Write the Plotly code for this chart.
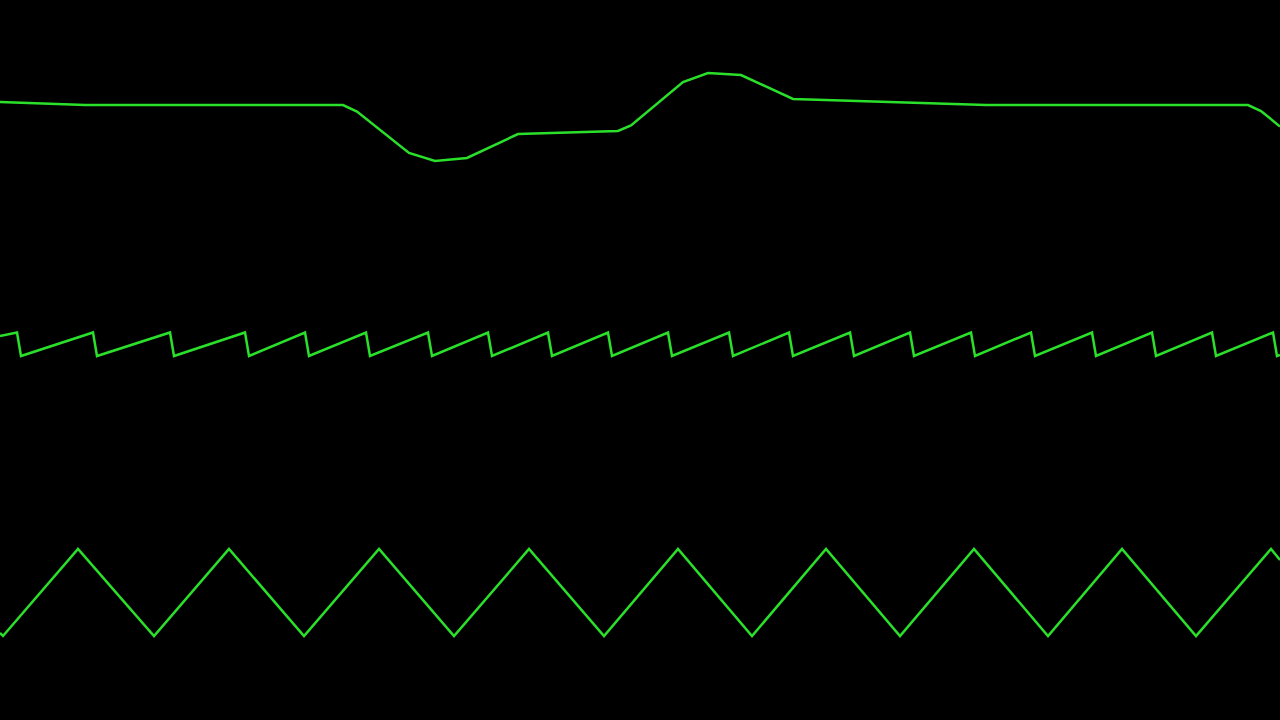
import plotly.graph_objects as go

# Trace 1: slow wandering signal (time, level)
t1 = [0, 85, 343, 357, 409, 435, 467, 518, 618, 631, 683, 708, 741, 793, 986, 1248, 1261, 1280]
v1 = [618, 615, 615, 608.5, 567, 559, 562, 586, 589, 594.5, 638, 647, 645, 621, 615, 615, 609, 593.5]

# Trace 2: sawtooth (peak times then reset times)
t2 = [0, 17, 21, 93, 97, 170, 174, 245, 249, 305, 309, 366, 370, 428, 432, 488, 492,
      548, 552, 608, 612, 668, 672, 729, 733, 789, 793, 850, 854, 910, 914, 971, 975,
      1031, 1035, 1092, 1096, 1152, 1156, 1212, 1216, 1273, 1277, 1280]
v2 = [384, 387.5, 364, 387.5, 364, 387.5, 364, 387.5, 364, 387.5, 364, 387.5, 364,
      387.5, 364, 387.5, 364, 387.5, 364, 387.5, 364, 387.5, 364, 387.5, 364, 387.5, 364,
      387.5, 364, 387.5, 364, 387.5, 364, 387.5, 364, 387.5, 364, 387.5, 364, 387.5, 364,
      387.5, 364, 365]

# Trace 3: triangle wave
t3 = [0, 3, 78, 154, 229, 304, 379, 454, 529, 604, 678, 752, 826, 900, 974, 1048, 1122, 1196, 1271, 1280]
v3 = [87, 84, 171, 84, 171, 84, 171, 84, 171, 84, 171, 84, 171, 84, 171, 84, 171, 84, 171, 160]

green = "rgb(42,224,42)"

fig = go.Figure()
for t, v in [(t1, v1), (t2, v2), (t3, v3)]:
    fig.add_trace(go.Scatter(x=t, y=v, mode="lines",
                             line=dict(color=green, width=2.5),
                             hoverinfo="skip", showlegend=False))

fig.update_layout(
    width=1280, height=720,
    margin=dict(l=0, r=0, t=0, b=0),
    paper_bgcolor="black", plot_bgcolor="black",
    xaxis=dict(range=[0, 1280], visible=False, fixedrange=True),
    yaxis=dict(range=[0, 720], visible=False, fixedrange=True),
)

fig.write_html(
    "out.html",
    config={"displayModeBar": False},
    post_script="document.body.style.margin='0';document.body.style.background='black';document.body.style.overflow='hidden';",
)
